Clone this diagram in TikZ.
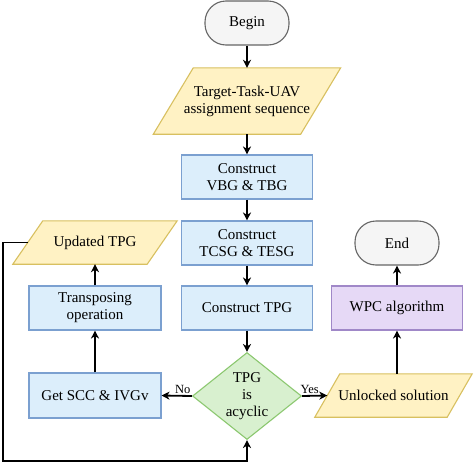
\documentclass[tikz,border=0pt]{standalone}
\usepackage{fontspec}
\setmainfont{Liberation Serif}
\usetikzlibrary{shapes.geometric,arrows.meta,backgrounds,calc}
\definecolor{bluef}{HTML}{DCEEFB}\definecolor{bluel}{HTML}{7BA0D0}
\definecolor{yelf}{HTML}{FFF2C4}\definecolor{yell}{HTML}{D8C060}
\definecolor{grnf}{HTML}{D8F0CF}\definecolor{grnl}{HTML}{8CC870}
\definecolor{purf}{HTML}{E6D9F6}\definecolor{purl}{HTML}{A088C8}
\definecolor{gryf}{HTML}{F5F5F5}\definecolor{gryl}{HTML}{666666}
\newcommand\drawpara[3]{\draw[#3] ($(#1.south west)+(-#2,0)$) -- ($(#1.north west)+(#2,0)$) -- ($(#1.north east)+(#2,0)$) -- ($(#1.south east)+(-#2,0)$) -- cycle;}
\tikzset{
  txt/.style={font=\fontsize{15}{17}\selectfont, align=center, inner sep=0pt},
  bluebox/.style={txt, draw=bluel, fill=bluef, line width=1.1pt, minimum width=131pt, minimum height=44pt},
  purbox/.style={txt, draw=purl, fill=purf, line width=1.1pt, minimum width=131pt, minimum height=44pt},
  term/.style={txt, draw=gryl, fill=gryf, line width=1.1pt, rounded corners=21pt, minimum width=84pt, minimum height=44pt},
  paratext/.style={txt, minimum width=#1},
  parashape/.style={draw=yell, fill=yelf, line width=1.1pt},
  decision/.style={txt, diamond, draw=grnl, fill=grnf, line width=1.1pt, minimum width=109pt, minimum height=87pt, aspect=1.25},
  arr/.style={line width=1.8pt, -{Stealth[length=8pt,width=8pt,inset=2.5pt]}},
  lbl/.style={font=\fontsize{12.5}{14}\selectfont, inner sep=1pt, above}
}
\begin{document}
\begin{tikzpicture}[x=1pt,y=-1pt]
\useasboundingbox (0,0) rectangle (474,474);
% nodes
\node[term] (begin) at (247,23) {Begin};
\node[paratext=147pt, minimum height=66pt] (tta) at (247,101) {Target-Task-UAV\\assignment sequence};
\node[bluebox] (vbg) at (247,177) {Construct\\VBG \& TBG};
\node[bluebox] (tcsg) at (247,243) {Construct\\TCSG \& TESG};
\node[bluebox] (tpg) at (247,308) {Construct TPG};
\node[decision] (dia) at (247,396) {TPG\\is\\acyclic};
\node[bluebox, minimum width=132pt, minimum height=45pt] (scc) at (95,395.5) {Get SCC \& IVGv};
\node[bluebox, minimum width=132pt, minimum height=44pt] (trans) at (95,308) {Transposing\\operation};
\node[paratext=134pt, minimum height=43pt] (upd) at (95,242.5) {Updated TPG};
\node[paratext=132pt, minimum height=43pt] (unl) at (393.5,395.5) {Unlocked solution};
\node[purbox] (wpc) at (397,308) {WPC algorithm};
\node[term] (endn) at (397,243) {End};
\coordinate (loopc) at (3,461);
% background and parallelogram outlines
\begin{scope}[on background layer]
\fill[white] (0,0) rectangle (474,474);
\drawpara{tta}{20}{parashape}
\drawpara{upd}{15}{parashape}
\drawpara{unl}{12.5}{parashape}
\end{scope}
% connectors
\draw[arr] (begin) -- (tta);
\draw[arr] (tta) -- (vbg);
\draw[arr] (vbg) -- (tcsg);
\draw[arr] (tcsg) -- (tpg);
\draw[arr] (tpg) -- (dia);
\draw[arr] (dia.west) -- node[lbl, pos=0.3] {No} (scc.east);
\draw[arr] (dia.east) -- node[lbl, pos=0.3] {Yes} (unl.west);
\draw[arr] (scc) -- (trans);
\draw[arr] (trans) -- (upd);
\draw[arr] (upd.west) -| (loopc) -| (dia.south);
\draw[arr] (unl.north -| wpc.south) -- (wpc.south);
\draw[arr] (wpc) -- (endn);
\end{tikzpicture}
\end{document}
